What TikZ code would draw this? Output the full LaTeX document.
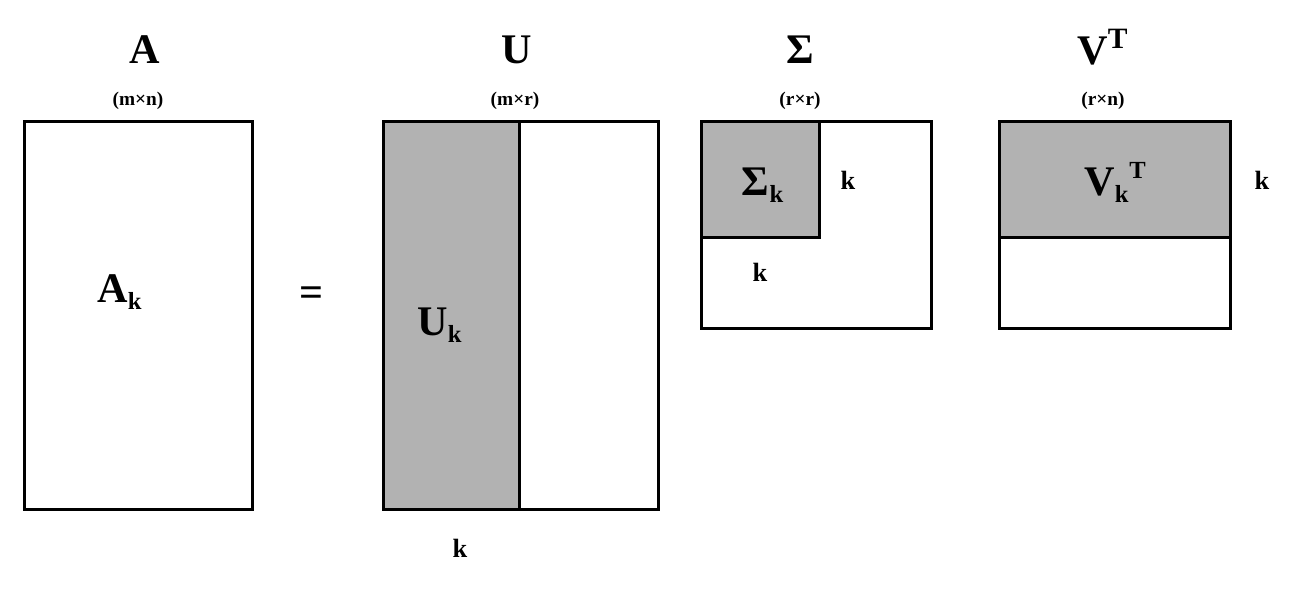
\documentclass[tikz,border=0pt]{standalone}
\usepackage{fontspec}
\setmainfont{Liberation Serif}
\begin{document}
\begin{tikzpicture}[x=0.02cm,y=-0.02cm,
  box/.style={draw=black,line width=0.06cm},
  shade/.style={fill=black!30,draw=black,line width=0.06cm},
  big/.style={font=\bfseries\fontsize{24}{28}\selectfont},
  dim/.style={font=\bfseries\fontsize{11}{13}\selectfont},
  lab/.style={font=\bfseries\fontsize{15}{18}\selectfont}]
\useasboundingbox (0,0) rectangle (1293,592);
% A
\draw[box] (24,121) rectangle (252,509);
\node[big] (tA) at (145,50) {A};
\node[dim] (dA) at (138,101) {(m×n)};
\node[big] (Ak) at (120,292) {A\textsubscript{\fontsize{14}{16}\selectfont k}};
\node[big] (eq) at (312,297) {=};
% U
\draw[shade] (383,121) rectangle (519,509);
\draw[box] (383,121) rectangle (658,509);
\node[big] (tU) at (517,50) {U};
\node[dim] (dU) at (515,101) {(m×r)};
\node[big] (Uk) at (440,325) {U\textsubscript{\fontsize{14}{16}\selectfont k}};
\node[lab] (k1) at (460,548) {k};
% Sigma
\draw[box] (701,121) rectangle (931,328);
\draw[shade] (701,121) rectangle (819,237);
\node[big] (tS) at (800,50) {Σ};
\node[dim] (dS) at (800,101) {(r×r)};
\node[big] (Sk) at (763,185) {Σ\textsubscript{\fontsize{14}{16}\selectfont k}};
\node[lab] (k2) at (848,180) {k};
\node[lab] (k3) at (760,272) {k};
% V^T
\draw[box] (999,121) rectangle (1230,328);
\draw[shade] (999,121) rectangle (1230,237);
\node[big] (tV) at (1103,47) {V\textsuperscript{T}};
\node[dim] (dV) at (1103,101) {(r×n)};
\node[big] (Vk) at (1115,182) {V\textsubscript{\fontsize{14}{16}\selectfont k}\raisebox{0.9ex}{\fontsize{14}{16}\selectfont T}};
\node[lab] (k4) at (1262,180) {k};
\end{tikzpicture}
\end{document}
